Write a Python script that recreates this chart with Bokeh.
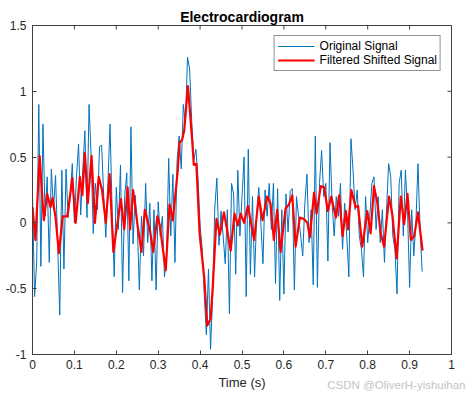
import math
from bokeh.plotting import figure
from bokeh.models import (Legend, LegendItem, FixedTicker, Title,
                          Range1d, ColumnDataSource)
from bokeh.embed import file_html
from bokeh.resources import INLINE

# ---------------- data ----------------
sample_step = 0.005  # s
original_signal = [
    0.2, -0.56, -0.3, 0.9, -0.33, 0.75, 0.05, 0.35, -0.3, 0.41,
    0.1, 0.36, -0.15, -0.7, 0.4, -0.35, 0.41, 0.04, 0.2, 0.45,
    0.0, 0.35, 0.6, 0.06, 0.4, 0.7, 0.04, 0.9, 0.5, -0.08,
    0.3, 0.1, 0.58, 0.59, 0.2, -0.11, 0.3, 0.75, 0.1, -0.41,
    0.27, -0.05, 0.44, -0.53, 0.2, 0.38, -0.44, 0.73, -0.16, 0.21,
    0.0, -0.51, 0.05, -0.25, 0.3, -0.15, 0.15, -0.44, 0.1, -0.51,
    0.16, -0.1, 0.05, -0.41, -0.25, 0.49, -0.1, 0.37, -0.3, 0.47,
    0.66, 0.41, 0.9, 0.75, 1.26, 1.17, 0.77, 0.48, 0.56, 0.34,
    -0.02, -0.2, -0.55, -0.85, -0.35, -0.96, -0.55, 0.11, 0.34, -0.17,
    0.09, -0.1, -0.31, 0.1, -0.69, 0.3, 0.22, -0.39, 0.4, -0.1,
    0.2, 0.5, -0.56, 0.56, -0.39, 0.2, -0.41, 0.05, 0.27, 0.0,
    -0.31, 0.25, 0.05, 0.3, -0.05, 0.3, -0.46, 0.26, -0.59, 0.1,
    -0.54, 0.22, -0.07, 0.24, 0.26, -0.51, 0.2, 0.05, -0.1, -0.25,
    0.15, 0.37, -0.15, 0.1, -0.47, 0.66, -0.49, 0.3, 0.55, 0.2,
    0.3, -0.29, 0.61, 0.15, -0.1, 0.2, 0.05, 0.3, -0.2, 0.15,
    -0.1, -0.41, 0.64, 0.4, 0.1, 0.25, -0.1, -0.2, -0.41, 0.2,
    -0.15, 0.05, 0.3, 0.35, -0.05, 0.2, -0.15, 0.1, -0.3, 0.1,
    0.45, 0.35, -0.1, -0.2, -0.54, 0.3, 0.4, -0.1, 0.4, 0.1,
    -0.49, 0.1, -0.25, 0.0, 0.45, -0.05, -0.37,
]
original_time = [i * sample_step for i in range(len(original_signal))]

filtered_time = [
    0.000, 0.007, 0.017, 0.027, 0.035, 0.043, 0.048, 0.055, 0.063, 0.072,
    0.083, 0.095, 0.103, 0.113, 0.119, 0.125, 0.132, 0.141, 0.149, 0.158,
    0.166, 0.175, 0.184, 0.193, 0.201, 0.211, 0.219, 0.227, 0.233, 0.240,
    0.250, 0.260, 0.268, 0.280, 0.288, 0.298, 0.304, 0.312, 0.318, 0.327,
    0.335, 0.347, 0.351, 0.357, 0.362, 0.371, 0.381, 0.385, 0.391, 0.399,
    0.410, 0.417, 0.425, 0.430, 0.439, 0.447, 0.457, 0.473, 0.482, 0.490,
    0.497, 0.505, 0.514, 0.529, 0.540, 0.549, 0.560, 0.568, 0.576, 0.584,
    0.592, 0.604, 0.612, 0.620, 0.628, 0.638, 0.648, 0.656, 0.662, 0.672,
    0.678, 0.688, 0.696, 0.705, 0.713, 0.724, 0.732, 0.740, 0.748, 0.753,
    0.761, 0.771, 0.777, 0.787, 0.799, 0.807, 0.815, 0.823, 0.831, 0.839,
    0.851, 0.859, 0.869, 0.879, 0.887, 0.895, 0.903, 0.911, 0.920, 0.931,
]
filtered_signal = [
    0.12, -0.13, 0.51, 0.02, 0.22, 0.12, 0.19, 0.04, -0.23, 0.05,
    0.05, 0.34, 0.0, 0.35, 0.21, 0.53, 0.15, 0.51, 0.0, 0.35,
    0.25, 0.0, 0.37, -0.22, -0.04, 0.18, -0.05, 0.27, -0.05, 0.25,
    0.0, -0.22, 0.1, -0.05, -0.22, 0.05, -0.02, -0.22, -0.36, 0.14,
    0.02, 0.41, 0.61, 0.63, 0.7, 1.04, 0.63, 0.44, 0.45, -0.09,
    -0.42, -0.78, -0.73, -0.5, 0.03, -0.09, 0.08, -0.21, 0.07, -0.02,
    0.07, 0.0, 0.13, -0.13, 0.2, 0.02, 0.2, 0.15, -0.13, 0.1,
    -0.22, 0.11, 0.14, 0.21, -0.18, 0.04, 0.03, 0.0, -0.11, 0.23,
    0.07, 0.28, 0.27, 0.09, 0.2, 0.04, 0.21, -0.1, 0.09, -0.05,
    0.25, 0.12, 0.13, -0.18, 0.09, -0.08, 0.28, 0.15, -0.08, -0.18,
    0.2, 0.06, -0.27, 0.2, -0.01, 0.22, -0.13, -0.1, 0.08, -0.21,
]

x_ticks = [0, 0.1, 0.2, 0.3, 0.4, 0.5, 0.6, 0.7, 0.8, 0.9, 1]
x_tick_labels = ["0", "0.1", "0.2", "0.3", "0.4", "0.5", "0.6", "0.7", "0.8", "0.9", "1"]
y_ticks = [-1, -0.5, 0, 0.5, 1, 1.5]
y_tick_labels = ["-1", "-0.5", "0", "0.5", "1", "1.5"]

title_text = "Electrocardiogram"
x_label_text = "Time (s)"
legend_labels = ["Original Signal", "Filtered Shifted Signal"]
watermark_text = "CSDN @OliverH-yishuihan"

# ---------------- figure ----------------
FONT = "Liberation Sans"
AX = "#404040"
TXT = "#262626"

p = figure(width=474, height=395, x_range=Range1d(0, 1), y_range=Range1d(-1, 1.5),
           output_backend="svg", toolbar_location=None,
           min_border_left=32, min_border_right=23, min_border_top=25, min_border_bottom=41)
p.xgrid.visible = False
p.ygrid.visible = False
p.outline_line_color = AX
p.outline_line_width = 1
p.background_fill_color = "white"
p.border_fill_color = "white"

p.title.text = title_text
p.title.align = "center"
p.title.text_font = FONT
p.title.text_font_size = "14px"
p.title.text_font_style = "bold"
p.title.text_color = "black"
p.title.standoff = 2

for ax, ticks, labels, standoff in ((p.xaxis[0], x_ticks, x_tick_labels, 5),
                                    (p.yaxis[0], y_ticks, y_tick_labels, 6)):
    ax.ticker = FixedTicker(ticks=ticks)
    ax.major_label_overrides = {t: s for t, s in zip(ticks, labels)}
    ax.major_tick_in = 4
    ax.major_tick_out = 0
    ax.minor_tick_in = 0
    ax.minor_tick_out = 0
    ax.axis_line_color = AX
    ax.major_tick_line_color = AX
    ax.major_label_text_font = FONT
    ax.major_label_text_font_size = "12px"
    ax.major_label_text_color = TXT
    ax.major_label_standoff = standoff

p.xaxis.axis_label = x_label_text
p.xaxis.axis_label_text_font = FONT
p.xaxis.axis_label_text_font_size = "13px"
p.xaxis.axis_label_text_font_style = "normal"
p.xaxis.axis_label_text_color = TXT
p.xaxis.axis_label_standoff = 3

# inward ticks on the top and right edges of the box
p.ray(x=x_ticks, y=1.5, length=4, angle=-math.pi / 2, length_units="screen",
      line_color=AX, line_width=1)
p.ray(x=1, y=y_ticks, length=4, angle=math.pi, length_units="screen",
      line_color=AX, line_width=1)

src1 = ColumnDataSource(dict(t=original_time, v=original_signal))
src2 = ColumnDataSource(dict(t=filtered_time, v=filtered_signal))
r1 = p.line("t", "v", source=src1, line_color="#0072BD", line_width=1)
r2 = p.line("t", "v", source=src2, line_color="#FF0000", line_width=2.2, line_join="round")

legend = Legend(items=[LegendItem(label=legend_labels[0], renderers=[r1]),
                       LegendItem(label=legend_labels[1], renderers=[r2])],
                location="top_right", margin=10, padding=3, spacing=0,
                glyph_width=37, glyph_height=12, label_height=12, label_standoff=5,
                label_text_font=FONT, label_text_font_size="12px", label_text_color="black",
                border_line_color=TXT, border_line_width=1, background_fill_alpha=1)
p.add_layout(legend)

wm = Title(text=watermark_text, align="right", vertical_align="top", text_font=FONT,
           text_font_size="11.5px", text_font_style="normal", text_color="#c4c4c4",
           standoff=-28, offset=-14)
p.add_layout(wm, "below")

open("out.html", "w").write(file_html(p, INLINE))
